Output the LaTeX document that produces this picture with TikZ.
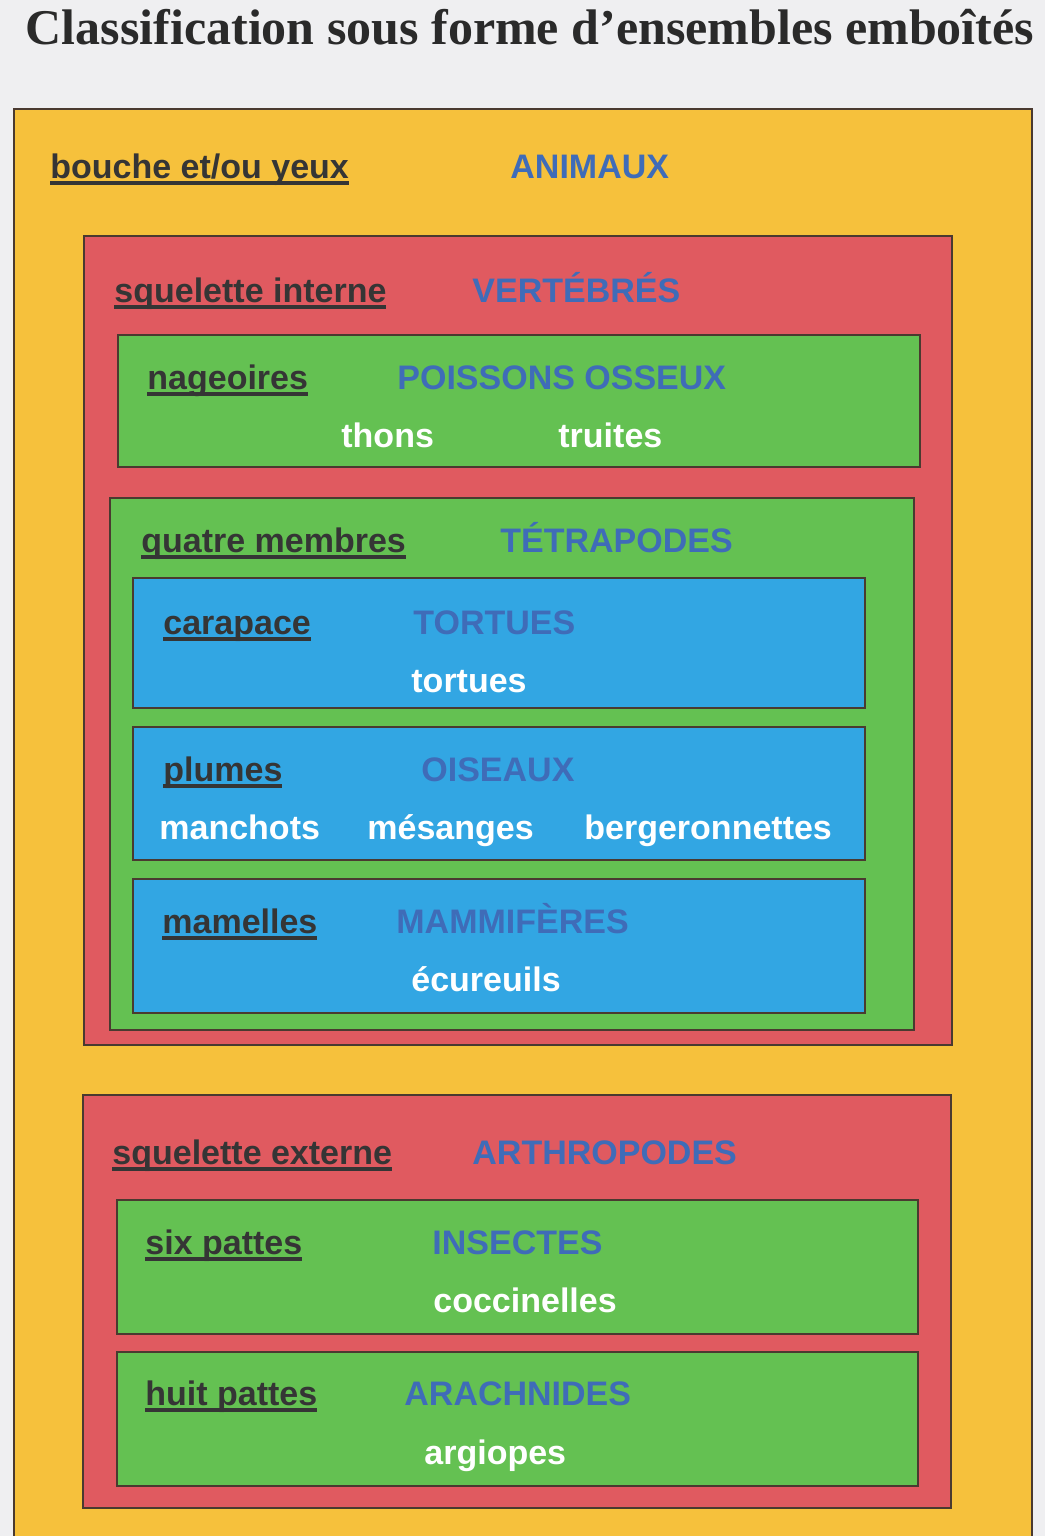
\documentclass[tikz,border=0pt]{standalone}
\usepackage{fontspec}
\setmainfont{Liberation Sans}
\newfontfamily\titlefont{Liberation Serif}
\definecolor{bgcol}{HTML}{EFEFF1}
\definecolor{yel}{HTML}{F6C13C}
\definecolor{redb}{HTML}{E05A60}
\definecolor{greenb}{HTML}{64C152}
\definecolor{blueb}{HTML}{32A6E3}
\definecolor{grpcol}{HTML}{3F6CB8}
\definecolor{labcol}{HTML}{353535}
\definecolor{edgecol}{HTML}{4A3A30}
\definecolor{titlecol}{HTML}{2A2A2A}
\newcommand\critul[1]{\setbox0\hbox{#1}\rlap{\color{labcol}\rule[-3.4pt]{\wd0}{1.8pt}}\box0}
\begin{document}
\begin{tikzpicture}[x=0.5pt,y=-0.5pt,
  setbox/.style={draw=edgecol, line width=1.1pt},
  txt/.style={anchor=base west, inner sep=0pt, font=\bfseries\fontsize{17}{20}\selectfont},
  crit/.style={txt, text=labcol},
  grp/.style={txt, text=grpcol},
  ex/.style={txt, text=white}]
\fill[bgcol] (0,0) rectangle (1045,1536);
\useasboundingbox (0,0) rectangle (1045,1536);
\node[anchor=base, inner sep=0pt, text=titlecol, font=\titlefont\bfseries\fontsize{25}{29}\selectfont] (title) at (530,45) {Classification sous forme d’ensembles emboîtés};
% boxes
\draw[setbox, fill=yel] (14,109) rectangle (1032,1560);
\draw[setbox, fill=redb] (84,236) rectangle (952,1045);
\draw[setbox, fill=greenb] (118,335) rectangle (920,467);
\draw[setbox, fill=greenb] (110,498) rectangle (914,1030);
\draw[setbox, fill=blueb] (133,578) rectangle (865,708);
\draw[setbox, fill=blueb] (133,727) rectangle (865,860);
\draw[setbox, fill=blueb] (133,879) rectangle (865,1013);
\draw[setbox, fill=redb] (83,1095) rectangle (951,1508);
\draw[setbox, fill=greenb] (117,1200) rectangle (918,1334);
\draw[setbox, fill=greenb] (117,1352) rectangle (918,1486);
% texts
\node[crit] (c1) at (50,178) {\critul{bouche et/ou yeux}};
\node[grp] (g1) at (510,178) {ANIMAUX};
\node[crit] (c2) at (114,302) {\critul{squelette interne}};
\node[grp] (g2) at (472,302) {VERTÉBRÉS};
\node[crit] (c3) at (147,389) {\critul{nageoires}};
\node[grp] (g3) at (397,389) {POISSONS OSSEUX};
\node[ex] (e31) at (341,447) {thons};
\node[ex] (e32) at (558,447) {truites};
\node[crit] (c4) at (141,552) {\critul{quatre membres}};
\node[grp] (g4) at (500,552) {TÉTRAPODES};
\node[crit] (c5) at (163,634) {\critul{carapace}};
\node[grp] (g5) at (413,634) {TORTUES};
\node[ex] (e5) at (411,692) {tortues};
\node[crit] (c6) at (163,781) {\critul{plumes}};
\node[grp] (g6) at (421,781) {OISEAUX};
\node[ex] (e61) at (159,839) {manchots};
\node[ex] (e62) at (367,839) {mésanges};
\node[ex] (e63) at (584,839) {bergeronnettes};
\node[crit] (c7) at (162,933) {\critul{mamelles}};
\node[grp] (g7) at (396,933) {MAMMIFÈRES};
\node[ex] (e7) at (411,991) {écureuils};
\node[crit] (c8) at (112,1164) {\critul{squelette externe}};
\node[grp] (g8) at (472,1164) {ARTHROPODES};
\node[crit] (c9) at (145,1254) {\critul{six pattes}};
\node[grp] (g9) at (432,1254) {INSECTES};
\node[ex] (e9) at (433,1312) {coccinelles};
\node[crit] (c10) at (145,1405) {\critul{huit pattes}};
\node[grp] (g10) at (404,1405) {ARACHNIDES};
\node[ex] (e10) at (424,1464) {argiopes};
\end{tikzpicture}
\end{document}
